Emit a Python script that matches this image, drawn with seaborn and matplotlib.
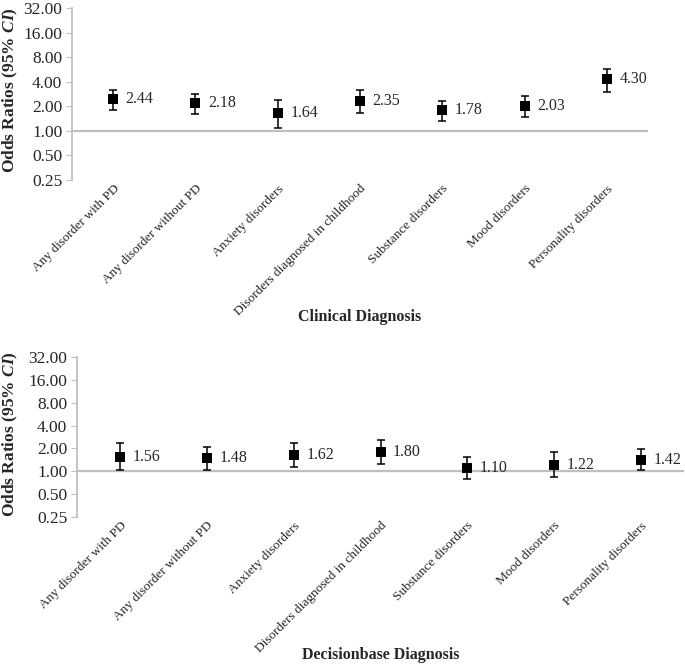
import numpy as np
import pandas as pd
import matplotlib
matplotlib.use("Agg")
import matplotlib.pyplot as plt
import seaborn as sns

# --- Dane ---
categories = ["Any disorder with PD", "Any disorder without PD", "Anxiety disorders",
              "Disorders diagnosed in childhood", "Substance disorders",
              "Mood disorders", "Personality disorders"]

clin_or = [2.44, 2.18, 1.64, 2.35, 1.78, 2.03, 4.30]
clin_lo = [1.81, 1.62, 1.09, 1.66, 1.33, 1.49, 3.02]
clin_hi = [3.19, 2.85, 2.40, 3.19, 2.34, 2.69, 5.78]

dec_or = [1.56, 1.48, 1.62, 1.80, 1.10, 1.22, 1.42]
dec_lo = [1.03, 1.03, 1.13, 1.24, 0.79, 0.83, 1.03]
dec_hi = [2.33, 2.12, 2.33, 2.62, 1.52, 1.77, 1.94]

y_ticks = [0.25, 0.5, 1, 2, 4, 8, 16, 32]

panels = [
    ("Clinical Diagnosis", clin_or, clin_lo, clin_hi),
    ("Decisionbase Diagnosis", dec_or, dec_lo, dec_hi),
]

# --- Styl ---
sns.set_style("white")
plt.rcParams['font.family'] = ['Liberation Serif', 'DejaVu Serif']
plt.rcParams['mathtext.fontset'] = 'custom'
plt.rcParams['mathtext.rm'] = 'Liberation Serif'
plt.rcParams['mathtext.it'] = 'Liberation Serif:italic'
plt.rcParams['mathtext.bf'] = 'Liberation Serif:bold'
plt.rcParams['mathtext.bfit'] = 'Liberation Serif:italic:bold'

grey = '#BFBFBF'
W, H = 685, 664

fig = plt.figure(figsize=(6.85, 6.64), dpi=100)
# pozycje osi w pikselach: lewo, góra, prawo, dół
ax_px = [(72, 8, 648, 180), (77, 357, 684, 517)]
label_y = [317, 655]

for (title, orv, lo, hi), (l, t, r, b), ly in zip(panels, ax_px, label_y):
    ax = fig.add_axes([l / W, 1 - b / H, (r - l) / W, (b - t) / H])
    df = pd.DataFrame({'cat': categories, 'or': orv, 'lo': lo, 'hi': hi})
    x = np.arange(len(categories))
    ax.errorbar(x, df['or'], yerr=[df['or'] - df['lo'], df['hi'] - df['or']],
                fmt='none', ecolor='black', elinewidth=1.1, capsize=2.6,
                capthick=1.1, zorder=3)
    sns.scatterplot(data=df, x='cat', y='or', marker='s', s=48, color='black',
                    edgecolor='black', linewidth=0, ax=ax, zorder=4)
    for xi, v in zip(x, orv):
        ax.annotate(f"{v:.2f}", (xi, v), xytext=(9, 0), textcoords='offset points',
                    ha='left', va='center', fontsize=11.5)
    ax.axhline(1, color=grey, lw=1.6, zorder=1)
    ax.set_yscale('log', base=2)
    ax.set_ylim(0.25, 32)
    ax.set_xlim(-0.5, len(categories) - 0.5)
    ax.set_yticks(y_ticks)
    ax.set_yticklabels([f"{tk:.2f}" for tk in y_ticks])
    ax.yaxis.set_minor_locator(matplotlib.ticker.NullLocator())
    ax.set_xticks(x)
    ax.set_xticklabels(categories, rotation=45, ha='right', rotation_mode='anchor',
                       fontsize=9.6)
    ax.tick_params(axis='y', labelsize=12.5, direction='out', length=4, color=grey,
                   left=True, pad=3)
    ax.tick_params(axis='x', length=0, pad=2)
    for s in ['top', 'right', 'bottom']:
        ax.spines[s].set_visible(False)
    ax.spines['left'].set_color(grey)
    ax.spines['left'].set_linewidth(1.3)
    ax.set_xlabel('')
    ax.set_ylabel(r"Odds Ratios (95% $\mathbfit{CI}$)", fontsize=12.5, fontweight='bold')
    ax.yaxis.set_label_coords((20 - l) / (r - l), 0.52)
    fig.text((l + r) / 2 / W, 1 - ly / H, title, ha='center', va='center',
             fontsize=11.5, fontweight='bold')

plt.savefig('out.png', dpi=100)
plt.close()
